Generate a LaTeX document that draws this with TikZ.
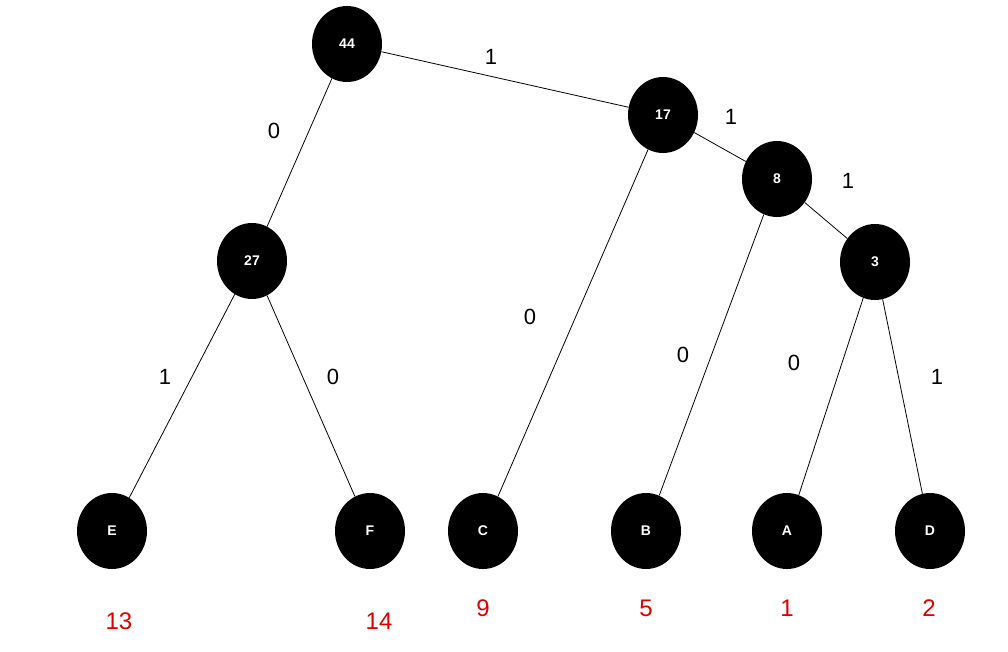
\documentclass[tikz,border=0pt]{standalone}
\usepackage{fontspec}
\setmainfont{Liberation Sans}
\usetikzlibrary{shapes.geometric}
\begin{document}
\begin{tikzpicture}[x=1pt,y=-1pt,
  nd/.style={ellipse,fill=black,minimum width=70pt,minimum height=76pt,inner sep=0pt,text=white,font=\fontsize{14}{16}\selectfont\bfseries},
  bit/.style={font=\fontsize{22}{26}\selectfont},
  fr/.style={font=\fontsize{24}{28}\selectfont,text=red!85!black},
  ed/.style={draw=black,line width=0.8pt}]
\useasboundingbox (0,0) rectangle (1008,652);
\node[nd] (n44) at (347,44) {44};
\node[nd] (n17) at (663,115) {17};
\node[nd] (n8) at (777,179) {8};
\node[nd] (n3) at (875,262) {3};
\node[nd] (n27) at (252,261) {27};
\node[nd] (E) at (112,531) {E};
\node[nd] (F) at (370,531) {F};
\node[nd] (C) at (483,531) {C};
\node[nd] (B) at (646,531) {B};
\node[nd] (A) at (787,531) {A};
\node[nd] (D) at (930,531) {D};
\draw[ed] (n44)--(n17); \draw[ed] (n44)--(n27);
\draw[ed] (n17)--(n8); \draw[ed] (n17)--(C);
\draw[ed] (n8)--(n3); \draw[ed] (n8)--(B);
\draw[ed] (n3)--(A); \draw[ed] (n3)--(D);
\draw[ed] (n27)--(E); \draw[ed] (n27)--(F);
\node[bit] (l1) at (491,57) {1};
\node[bit] (l2) at (274,131) {0};
\node[bit] (l3) at (731,117) {1};
\node[bit] (l4) at (848,181) {1};
\node[bit] (l5) at (530,317) {0};
\node[bit] (l6) at (683,355) {0};
\node[bit] (l7) at (794,363) {0};
\node[bit] (l8) at (937,377) {1};
\node[bit] (l9) at (165,377) {1};
\node[bit] (l10) at (333,377) {0};
\node[fr] (f1) at (119,621) {13};
\node[fr] (f2) at (379,621) {14};
\node[fr] (f3) at (483,608) {9};
\node[fr] (f4) at (646,608) {5};
\node[fr] (f5) at (787,608) {1};
\node[fr] (f6) at (929,608) {2};
\end{tikzpicture}
\end{document}
